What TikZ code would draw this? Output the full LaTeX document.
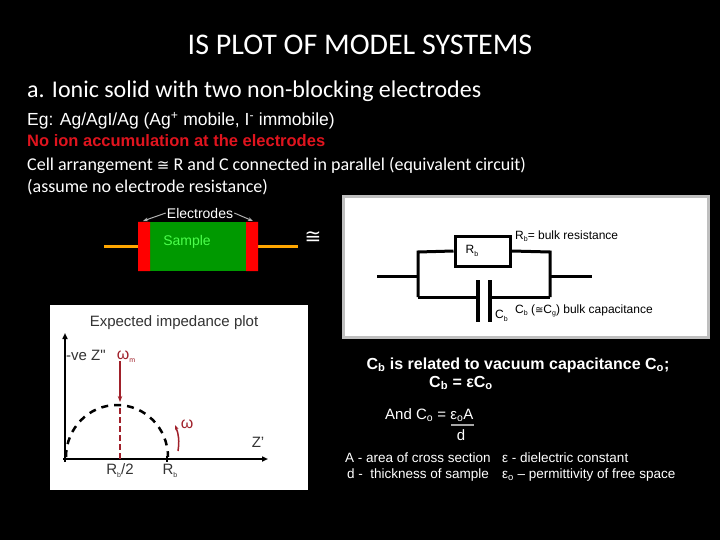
\documentclass[tikz,border=0pt]{standalone}
\usepackage{fontspec}
\setmainfont{Liberation Sans}
\newfontfamily\carl{Carlito}
\newfontfamily\dvs{DejaVu Sans}
\usetikzlibrary{arrows.meta}
\definecolor{dred}{HTML}{A0202A}
\definecolor{ared}{HTML}{E0141E}
\begin{document}
\begin{tikzpicture}[x=1pt,y=-1pt,
  wire/.style={line width=3pt,black,line join=miter},
  lbl/.style={inner sep=0pt,font=\fontsize{12}{14}\selectfont},
  ptxt/.style={inner sep=0pt,font=\fontsize{15}{17}\selectfont,text=black!80}]
\fill[black] (0,0) rectangle (720,540);
\useasboundingbox (0,0) rectangle (720,540);
\node[white,font=\carl\fontsize{30}{32}\selectfont] (title) at (360,45) {IS PLOT OF MODEL SYSTEMS};
\node[white,anchor=west,inner sep=0pt,font=\carl\fontsize{24}{26}\selectfont] (a) at (27,91) {a. Ionic solid with two non-blocking electrodes};
\node[white,anchor=west,inner sep=0pt,font=\fontsize{17.5}{19}\selectfont] (eg) at (27,121) {Eg: Ag/AgI/Ag (Ag\textsuperscript{+} mobile, I\textsuperscript{-} immobile)};
\node[ared,anchor=west,inner sep=0pt,font=\bfseries\fontsize{16.5}{18}\selectfont] (no) at (27,141) {No ion accumulation at the electrodes};
\node[white,anchor=west,inner sep=0pt,font=\carl\fontsize{18}{20}\selectfont] (cell) at (27,165) {Cell arrangement {\dvs\fontsize{15}{17}\selectfont ≅} R and C connected in parallel (equivalent circuit)};
\node[white,anchor=west,inner sep=0pt,font=\carl\fontsize{18}{20}\selectfont] (ass) at (27,187) {(assume no electrode resistance)};
% sample
\draw[line width=3pt,orange!70!yellow] (104,246) -- (298,246);
\fill[green!60!black] (150,222) rectangle (246,271);
\fill[red] (138,222) rectangle (150,271) (246,222) rectangle (258,271);
\node[white,font=\fontsize{14}{16}\selectfont,inner sep=1pt] (el) at (200,213) {Electrodes};
\coordinate (e1) at (143,221); \coordinate (e2) at (253,221);
\draw[gray!60,line width=1pt,-{Stealth[length=5pt]}] (el.west) -- (e1);
\draw[gray!60,line width=1pt,-{Stealth[length=5pt]}] (el.east) -- (e2);
\node[green!70!white,font=\fontsize{14}{16}\selectfont] (sam) at (187,242) {Sample};
\node[white,font=\dvs\fontsize{20}{22}\selectfont] (cong) at (313,238) {≅};
% circuit
\draw[fill=white,draw=gray!50,line width=3pt] (343,197) rectangle (708,337);
\coordinate (l0) at (377,276); \coordinate (l1) at (418,276);
\coordinate (r0) at (592,276); \coordinate (r1) at (550,276);
\draw[wire] (l0) -- (l1);
\draw[wire] (r1) -- (r0);
\node[draw,line width=3pt,minimum width=55pt,minimum height=30pt,inner sep=0pt] (rb) at (482.5,251) {};
\node[lbl] at (472,251) {R\raisebox{-3pt}{\scriptsize b}};
\draw[wire] (418,297) -- (418,252) -- (rb.west);
\draw[wire] (rb.east) -- (550,252) -- (550,297);
\draw[wire] (418,297) -- (478,297);
\draw[wire] (490,297) -- (550,297);
\draw[line width=4pt] (478,280) -- (478,322);
\draw[line width=4pt] (490,280) -- (490,322);
\node[lbl,anchor=west] (rbl) at (515,236) {R\raisebox{-2pt}{\scriptsize b}= bulk resistance};
\node[lbl,anchor=west] (cb) at (495,316) {C\raisebox{-3pt}{\scriptsize b}};
\node[lbl,anchor=west] (cbl) at (515,311) {C\raisebox{-2pt}{\scriptsize b} ({\dvs\fontsize{10}{12}\selectfont ≅}C\raisebox{-2pt}{\scriptsize g}) bulk capacitance};
% plot
\fill[white] (50,305) rectangle (308,490);
\node[ptxt] (pt) at (174,323) {Expected impedance plot};
\coordinate (o) at (65,459);
\draw[line width=1.5pt,-{Triangle[length=6pt,width=5pt]}] (65,462) -- (65,333);
\draw[line width=1.5pt,-{Triangle[length=6pt,width=5pt]}] (63,459) -- (268,459);
\draw[line width=2.5pt,dash pattern=on 7pt off 6pt] (66,457) arc[start angle=180,end angle=0,x radius=51,y radius=-52];
\draw[dred,line width=2.5pt,dash pattern=on 6pt off 3pt] (120,408) -- (120,459);
\draw[dred,line width=1.2pt,-{Stealth[length=6pt]}] (120,361) -- (120,402);
\draw[line width=2pt] (167,456) -- (167,462);
\draw[dred,line width=1.5pt,-{Stealth[length=5pt]}] (178,451) to[bend right=15] (175,425);
\node[ptxt,anchor=west] (zz) at (66,355) {-ve Z\textquotedbl};
\node[dred,font=\fontsize{16}{17}\selectfont,inner sep=0pt] (wm) at (126,357) {ω\raisebox{-3pt}{\scriptsize m}};
\node[dred,font=\fontsize{16}{17}\selectfont,inner sep=0pt] (w) at (187,424) {ω};
\node[ptxt] (zp) at (258,442) {Z'};
\node[ptxt] (rb2) at (120,471) {R\raisebox{-3pt}{\scriptsize b}/2};
\node[ptxt] (rbx) at (170,471) {R\raisebox{-3pt}{\scriptsize b}};
% right text
\node[white,font=\bfseries\fontsize{16}{18}\selectfont,inner sep=0pt] (t1) at (518,365) {C\textsubscript{b} is related to vacuum capacitance C\textsubscript{o};};
\node[white,font=\bfseries\fontsize{16}{18}\selectfont,inner sep=0pt] (t2) at (461,383) {C\textsubscript{b} = εC\textsubscript{o}};
\node[white,font=\fontsize{15}{17}\selectfont,inner sep=0pt,anchor=west] (t3) at (385,415) {And C\textsubscript{o} = ε\textsubscript{o}A};
\draw[gray!70,line width=1.5pt] (451,425) -- (474,425);
\node[white,font=\fontsize{15}{17}\selectfont,inner sep=0pt] (t4) at (461,435) {d};
\node[white,font=\fontsize{13.5}{15}\selectfont,inner sep=0pt,anchor=west] (t5) at (345,458) {A - area of cross section};
\node[white,font=\fontsize{13.5}{15}\selectfont,inner sep=0pt,anchor=west] (t6) at (347,475) {d -\ \ thickness of sample};
\node[white,font=\fontsize{13.5}{15}\selectfont,inner sep=0pt,anchor=west] (t7) at (502,458) {ε - dielectric constant};
\node[white,font=\fontsize{13.5}{15}\selectfont,inner sep=0pt,anchor=west] (t8) at (502,475) {ε\textsubscript{o} – permittivity of free space};
\end{tikzpicture}
\end{document}
